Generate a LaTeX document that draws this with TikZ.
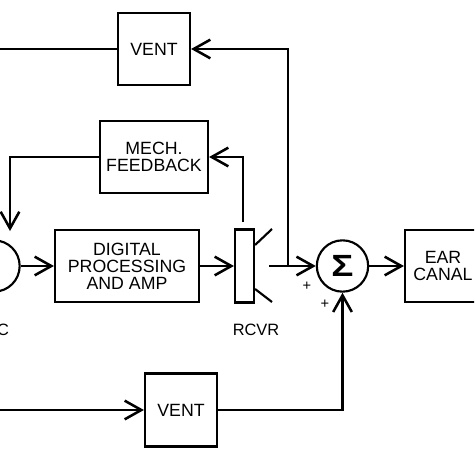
\documentclass[tikz,border=0pt]{standalone}
\usepackage{fontspec}
\setmainfont{Liberation Sans}
\usetikzlibrary{arrows.meta}

\begin{document}
\begin{tikzpicture}[x=0.75pt, y=-0.75pt, line width=1.6pt,
        >={Straight Barb[length=12.5pt, width=14pt, line width=1.9pt]},
        block/.style={draw, inner sep=0pt, align=center,
                font=\fontsize{13.3}{12.8}\selectfont},
        junction/.style={draw, circle, inner sep=0pt, minimum size=38.5pt}]
                \useasboundingbox (0,0) rectangle (474,474);
                \clip (0,0) rectangle (474,474);
                % blocks
                \node [block, minimum width=54pt, minimum height=54pt] (ventT) at (154,49) {VENT};
                \node [block, minimum width=81pt, minimum height=54pt] (mech) at (154,157) {MECH.\\FEEDBACK};
                \node [junction] (mic) at (-6,266) {};
                \node [block, minimum width=108pt, minimum height=54pt] (dsp) at (127,266) {DIGITAL\\PROCESSING\\AND AMP};
                \node [draw, inner sep=0pt, minimum width=14.25pt, minimum height=54.75pt] (rcvr) at (244.5,266) {};
                \node [junction, font=\fontsize{23}{23}\selectfont\bfseries] (sum) at (342.5,266) {\scalebox{1.2}[1]{Σ}};
                \node [block, minimum width=57pt, minimum height=54pt] (ear) at (443,266) {EAR\\CANAL};
                \node [block, minimum width=54pt, minimum height=54.75pt] (ventB) at (181,410) {VENT};
                % labels
                \node [font=\fontsize{12.3}{12.3}\selectfont] (rcvrlabel) at (256,330) {RCVR};
                \node [font=\fontsize{12.3}{12.3}\selectfont] (miclabel) at (-6,330) {MIC};
                \node [font=\fontsize{11}{11}\selectfont] (plusA) at (307,286) {+};
                \node [font=\fontsize{11}{11}\selectfont] (plusB) at (325,304) {+};
                % free ends
                \coordinate (ventTout) at (-10,49);
                \coordinate (ventBin) at (-10,410);
                \coordinate (micin) at (10,231);
                \coordinate (rcvrtop) at (243,222);
                \coordinate (spkout) at (269,266);
                \coordinate (branch) at (288,266);
                % speaker cone
                \draw (rcvr.east |- 0,245) -- (272,229);
                \draw (rcvr.east |- 0,289) -- (272,302);
                % signal paths
                \draw (ventT.west) -- (ventTout);
                \draw [->] (ventBin) -- (ventB.west);
                \draw [->] (ventB.east) -| (sum.south);
                \draw [->] (mech.west) -| (micin);
                \draw [->] (rcvrtop) |- (mech.east);
                \draw [->] (mic.east) -- (dsp.west);
                \draw [->] (dsp.east) -- (rcvr.west);
                \draw [->] (spkout) -- (sum.west);
                \draw [->] (branch) |- (ventT.east);
                \draw [->] (sum.east) -- (ear.west);
            \end{tikzpicture}
\end{document}
